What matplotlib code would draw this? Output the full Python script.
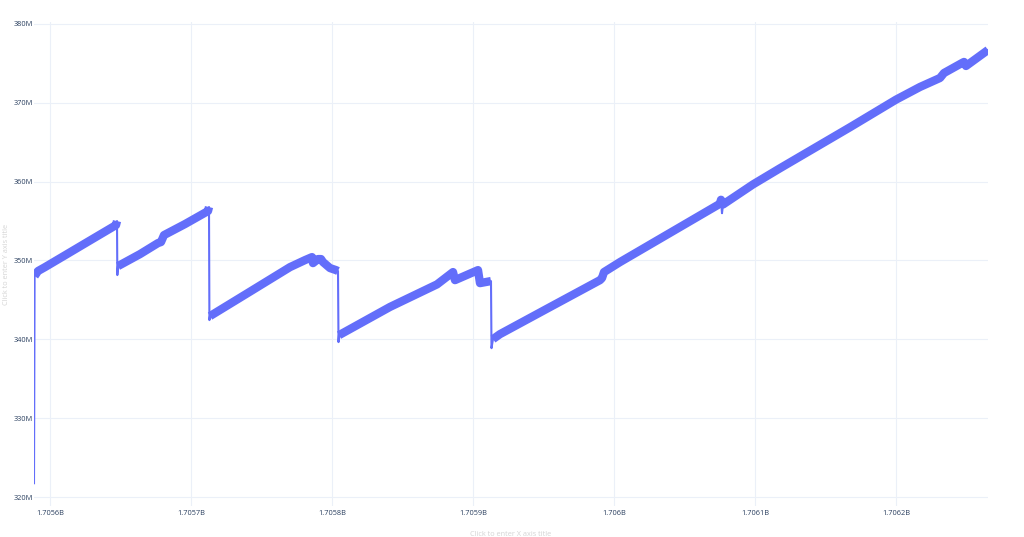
import numpy as np
import matplotlib
matplotlib.use("Agg")
import matplotlib.pyplot as plt
from matplotlib.ticker import FuncFormatter

# points (x in raw units, y in millions)
x_vals = [
    1705588298, 1705588723, 1705591135, 1705596099, 1705610284, 1705628014,
    1705646454, 1705647163, 1705647400, 1705647872, 1705663475, 1705676241,
    1705678369, 1705680496, 1705695390, 1705711702, 1705712411, 1705712700,
    1705713121, 1705741489, 1705769858, 1705780496, 1705785461, 1705786170,
    1705789716, 1705791844, 1705793262, 1705798227, 1705802482, 1705803901,
    1705804255, 1705804610, 1705840780, 1705874114, 1705885461, 1705886879,
    1705903192, 1705904605, 1705912406, 1705912760, 1705913825, 1705918790,
    1705954255, 1705989712, 1705991134, 1705992555, 1706003901, 1706046454,
    1706074823, 1706075532, 1706076241, 1706076950, 1706098227, 1706117376,
    1706167021, 1706199645, 1706216667, 1706230851, 1706233688, 1706246454,
    1706247872, 1706249291, 1706264894,
]
y_vals_m = [
    321.75, 348.02, 348.66, 349.16, 350.66, 352.54,
    354.49, 355.00, 348.15, 349.29, 350.81, 352.21,
    352.34, 353.22, 354.62, 356.27, 356.78, 342.44,
    342.95, 346.05, 349.16, 350.05, 350.43, 349.67,
    350.18, 350.18, 349.80, 349.04, 348.78, 348.66,
    339.65, 340.53, 344.11, 346.97, 348.53, 347.51,
    348.78, 347.13, 347.39, 338.88, 340.03, 340.66,
    344.09, 347.51, 347.77, 348.53, 349.80, 354.24,
    357.20, 357.70, 356.00, 357.10, 359.65, 361.70,
    366.90, 370.40, 372.01, 373.15, 373.78, 375.05,
    375.18, 374.67, 376.70,
]
# False marks the thin spikes / drop bottoms that sit outside the noisy band
in_band = [
    False, True, True, True, True, True,
    True, True, False, True, True, True,
    True, True, True, True, True, False,
    True, True, True, True, True, True,
    True, True, True, True, True, True,
    False, True, True, True, True, True,
    True, True, True, False, True, True,
    True, True, True, True, True, True,
    True, True, False, True, True, True,
    True, True, True, True, True, True,
    True, True, True,
]

x_ticks = [1705600000, 1705700000, 1705800000, 1705900000,
           1706000000, 1706100000, 1706200000]
y_ticks_m = [320, 330, 340, 350, 360, 370, 380]

x = np.array(x_vals, dtype=float)
y = np.array(y_vals_m) * 1e6
mask = np.array(in_band)

# split the band points into runs at the big downward drops
runs = [[]]
for xi, yi in zip(x[mask], y[mask]):
    if runs[-1] and yi < runs[-1][-1][1] - 3e6:
        runs.append([])
    runs[-1].append((xi, yi))

line_col = "#636efa"
tick_col = "#2a3f5f"
grid_col = "#ebf0f8"

plt.rcParams["font.family"] = ["Open Sans", "DejaVu Sans"]

fig = plt.figure(figsize=(10.24, 5.37), dpi=100)
W, H = 1024, 537
left, right, top, bottom = 34, 988, 21.6, 505.7
ax = fig.add_axes([left / W, 1 - bottom / H, (right - left) / W, (bottom - top) / H])

for run in runs:
    rx, ry = zip(*run)
    ax.plot(rx, ry, color=line_col, lw=6.0, solid_capstyle="butt",
            solid_joinstyle="round")
ax.plot(x, y, color=line_col, lw=1.5)

ax.set_xlim(x.min(), x.max())
ax.set_ylim(318.9e6, 380.3e6)
ax.set_xticks(x_ticks)
ax.set_yticks([v * 1e6 for v in y_ticks_m])
ax.xaxis.set_major_formatter(FuncFormatter(lambda v, p: f"{round(v / 1e9, 4):g}B"))
ax.yaxis.set_major_formatter(FuncFormatter(lambda v, p: f"{round(v / 1e6):g}M"))

for s in ax.spines.values():
    s.set_visible(False)
ax.grid(True, color=grid_col, lw=0.8)
ax.set_axisbelow(True)
ax.tick_params(axis="both", length=0, labelsize=5.3, labelcolor=tick_col)
ax.tick_params(axis="y", pad=0.8)
ax.tick_params(axis="x", pad=3)

fig.text(7 / W, 1 - 264 / H, "Click to enter Y axis title", rotation=90,
         ha="center", va="center", fontsize=5.3, color="#d4d4d4")
fig.text(511 / W, 1 - 531 / H, "Click to enter X axis title",
         ha="center", va="top", fontsize=5.3, color="#d4d4d4")

fig.savefig("out.png", dpi=100, facecolor="white")
